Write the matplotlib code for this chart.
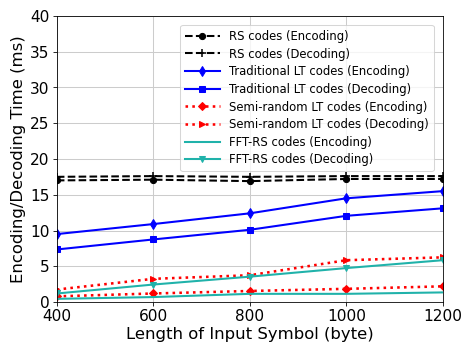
import matplotlib
matplotlib.use('Agg')
import matplotlib.pyplot as plt

symbol_len = [400, 600, 800, 1000, 1200]

rs_enc = [17.0, 17.1, 16.9, 17.2, 17.2]
rs_dec = [17.5, 17.6, 17.5, 17.6, 17.6]
lt_enc = [9.5, 10.9, 12.4, 14.5, 15.5]
lt_dec = [7.35, 8.75, 10.1, 12.05, 13.1]
semi_enc = [0.8, 1.2, 1.55, 1.85, 2.2]
semi_dec = [1.75, 3.25, 3.75, 5.85, 6.25]
fft_enc = [0.45, 0.7, 1.15, 1.15, 1.35]
fft_dec = [1.2, 2.45, 3.55, 4.75, 5.85]

teal = '#20b2aa'

fig = plt.figure(figsize=(6.4, 4.8), dpi=74)
ax = fig.add_axes([0.12, 0.149, 0.815, 0.806])

ax.plot(symbol_len, rs_enc, 'k--', marker='o', lw=2, ms=6, label='RS codes (Encoding)')
ax.plot(symbol_len, rs_dec, 'k--', marker='+', lw=2, ms=7, mew=1.5, label='RS codes (Decoding)')
ax.plot(symbol_len, lt_enc, 'b-', marker='d', lw=2, ms=7, label='Traditional LT codes (Encoding)')
ax.plot(symbol_len, lt_dec, 'b-', marker='s', lw=2, ms=6, label='Traditional LT codes (Decoding)')
ax.plot(symbol_len, semi_enc, 'r:', marker='D', lw=2.5, ms=6, label='Semi-random LT codes (Encoding)')
ax.plot(symbol_len, semi_dec, 'r:', marker='>', lw=2.5, ms=6, label='Semi-random LT codes (Decoding)')
ax.plot(symbol_len, fft_enc, '-', color=teal, lw=2, label='FFT-RS codes (Encoding)')
ax.plot(symbol_len, fft_dec, '-', color=teal, marker='v', lw=2, ms=6, label='FFT-RS codes (Decoding)')

ax.set_xlim(400, 1200)
ax.set_ylim(0, 40)
ax.set_xticks([400, 600, 800, 1000, 1200])
ax.set_yticks(range(0, 41, 5))
ax.tick_params(labelsize=15)
ax.grid(True, color='#cccccc', lw=1)
ax.set_xlabel('Length of Input Symbol (byte)', fontsize=16, labelpad=2)
ax.set_ylabel('Encoding/Decoding Time (ms)', fontsize=16, labelpad=4)
ax.legend(loc='upper right', fontsize=11.3, handlelength=3, borderaxespad=0.8,
          labelspacing=0.4)

fig.savefig('out.png', dpi=74)
